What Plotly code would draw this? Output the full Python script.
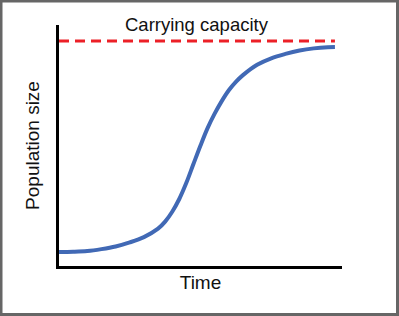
import plotly.graph_objects as go

# Logistic growth curve
time = [0.0, 0.5, 1.0, 1.5, 2.0, 2.5, 3.0, 3.5, 3.75, 4.0, 4.25, 4.5, 4.75, 5.0, 5.25, 5.5,
        5.75, 6.0, 6.25, 6.5, 7.0, 7.5, 8.0, 8.5, 9.0, 9.5, 9.75]
population = [5.8, 5.9, 6.2, 7.0, 8.1, 9.8, 12.0, 15.5, 18.4, 22.5, 27.8, 34.5, 42.3, 50.0,
              57.2, 63.2, 68.4, 72.9, 76.4, 79.2, 83.5, 86.2, 88.0, 89.4, 90.3, 90.8, 90.9]

capacity_time = [0.0, 9.75]
capacity_value = [93.4, 93.4]

x_range = [0, 10]
y_range = [0, 100]

fig = go.Figure()
fig.add_trace(go.Scatter(
    x=capacity_time, y=capacity_value, mode="lines",
    line=dict(color="#ec2027", width=3, dash="10px,6px"),
    hoverinfo="skip", showlegend=False,
))
fig.add_trace(go.Scatter(
    x=time, y=population, mode="lines",
    line=dict(color="#4169b5", width=4, shape="spline", smoothing=1.0),
    showlegend=False,
))

fig.add_annotation(
    text="Carrying capacity", xref="x", yref="paper",
    x=4.89, y=1.0, yanchor="bottom", showarrow=False,
    yshift=-12,
    font=dict(family="Liberation Sans, Arial, sans-serif", size=18.5, color="#111"),
)

# Figure border
fig.add_shape(type="rect", xref="paper", yref="paper",
              x0=(1 - 59) / 283, x1=(397.5 - 59) / 283,
              y0=(266 - 314.5) / 241, y1=(266 - 1) / 241,
              line=dict(color="#666666", width=3), fillcolor="rgba(0,0,0,0)", layer="above")

axis_common = dict(showgrid=False, zeroline=False, showticklabels=False, ticks="",
                   showline=True, linecolor="black", linewidth=3)

fig.update_layout(
    width=399, height=316,
    margin=dict(l=59, r=57, t=25, b=50),
    paper_bgcolor="white", plot_bgcolor="white",
    font=dict(family="Liberation Sans, Arial, sans-serif", size=16, color="#111"),
    xaxis=dict(range=x_range, title=dict(text="Time", standoff=8), **axis_common),
    yaxis=dict(range=y_range, title=dict(text="Population size", standoff=12), **axis_common),
)

fig.write_html("out.html")
